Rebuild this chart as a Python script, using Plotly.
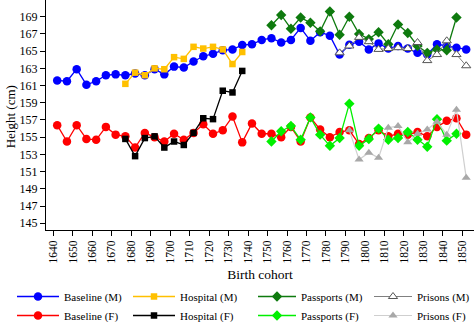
import plotly.graph_objects as go

# ---- data ----
years_base = list(range(1642, 1853, 5))
baseline_m = [161.6, 161.5, 162.9, 161.1, 161.5, 162.2, 162.3, 162.2, 162.4, 162.2, 162.9,
              162.3, 163.2, 163.1, 163.8, 164.4, 164.7, 165.1, 165.2, 165.7, 165.8, 166.3,
              166.5, 166.0, 166.3, 167.7, 166.2, 167.2, 166.8, 164.6, 165.75, 166.1, 165.2,
              165.9, 165.3, 165.6, 165.3, 164.8, 164.6, 165.8, 165.6, 165.4, 165.2]
baseline_f = [156.4, 154.5, 156.4, 154.8, 154.7, 156.2, 155.3, 155.1, 153.8, 155.5, 155.0,
              154.5, 155.4, 154.7, 155.5, 156.5, 155.4, 155.8, 157.4, 154.4, 156.6, 155.4,
              155.4, 155.0, 156.2, 154.5, 157.3, 155.9, 155.0, 155.6, 155.8, 154.2, 154.9,
              155.8, 155.1, 155.4, 155.3, 155.6, 155.1, 156.2, 156.9, 157.2, 155.3]

years_hosp = list(range(1677, 1738, 5))
hospital_m = [161.2, 162.5, 162.2, 163.0, 162.9, 164.3, 164.1, 165.5, 165.3, 165.5, 165.2, 163.5, 164.9]
hospital_f = [154.8, 152.8, 154.9, 155.1, 153.8, 154.5, 154.1, 155.5, 157.2, 157.1, 160.4, 160.2, 162.7]

years_pass = list(range(1752, 1848, 5))
passports_m = [168.0, 169.2, 167.6, 168.9, 168.3, 167.3, 169.6, 166.9, 169.0, 167.0,
               166.4, 167.2, 165.8, 168.1, 167.1, 165.6, 164.8, 165.2, 165.1, 168.9]
passports_f = [154.5, 155.7, 156.3, 154.7, 157.3, 155.3, 154.0, 154.9, 158.9, 154.0,
               154.8, 156.0, 154.7, 154.9, 155.6, 154.7, 153.9, 157.1, 154.6, 155.4]

years_prison_m = list(range(1787, 1853, 5))
prisons_m = [164.8, 165.6, 166.6, 166.1, 165.2, 165.3, 165.4, 165.3, 166.0, 163.9, 164.6, 166.2, 164.6, 163.3]
years_prison_f = list(range(1792, 1853, 5))
prisons_f = [155.8, 152.4, 153.2, 152.6, 156.1, 156.3, 154.4, 155.4, 155.9, 156.8, 155.3, 158.2, 150.3]

y_ticks = list(range(145, 170, 2))
x_ticks = list(range(1640, 1851, 10))

FONT = "Liberation Serif, Times New Roman, serif"

fig = go.Figure()


def add(x, y, name, color, symbol, size, legend, mcolor=None, mline=None, lw=1.3):
    fig.add_trace(go.Scatter(
        x=x, y=y, name=name, mode="lines+markers", legend=legend,
        line=dict(color=color, width=lw),
        marker=dict(symbol=symbol, size=size, color=mcolor or color,
                    line=dict(color=mline or (mcolor or color), width=1 if mline else 0)),
    ))


add(years_base, baseline_m, "Baseline (M)", "#0000FF", "circle", 8.5, "legend")
add(years_base, baseline_f, "Baseline (F)", "#FF0000", "circle", 8.5, "legend")
add(years_hosp, hospital_m, "Hospital (M)", "#FFC000", "square", 6.5, "legend2")
add(years_hosp, hospital_f, "Hospital (F)", "#000000", "square", 6.5, "legend2")
add(years_pass, passports_m, "Passports (M)", "#0E7A0E", "diamond", 8, "legend3")
add(years_pass, passports_f, "Passports (F)", "#00F000", "diamond", 8, "legend3")
add(years_prison_m, prisons_m, "Prisons (M)", "#808080", "triangle-up", 8, "legend4",
    mcolor="#FFFFFF", mline="#555555", lw=1)
add(years_prison_f, prisons_f, "Prisons (F)", "#CFCFCF", "triangle-up", 8, "legend4",
    mcolor="#A8A8A8", lw=1.2)

leg_common = dict(
    orientation="v", xref="container", yref="container", yanchor="top", xanchor="left",
    font=dict(family=FONT, size=11, color="black"),
    bgcolor="rgba(0,0,0,0)", borderwidth=0, tracegroupgap=0,
)
leg_y = (322 - 282) / 322
fig.update_layout(
    width=474, height=322,
    margin=dict(l=46, r=0, t=0, b=92, autoexpand=False),
    paper_bgcolor="white", plot_bgcolor="white",
    font=dict(family=FONT, size=12, color="black"),
    showlegend=True,
    legend=dict(x=12 / 474, y=leg_y, itemwidth=42, **leg_common),
    legend2=dict(x=128 / 474, y=leg_y, itemwidth=42, **leg_common),
    legend3=dict(x=253 / 474, y=leg_y, itemwidth=38, **leg_common),
    legend4=dict(x=369 / 474, y=leg_y, itemwidth=38, **leg_common),
    xaxis=dict(
        range=[1636.25, 1856.0], tickmode="array", tickvals=x_ticks,
        ticktext=[str(v) for v in x_ticks], tickangle=-90,
        showline=True, linecolor="black", linewidth=1, mirror=False,
        ticks="outside", ticklen=5, tickcolor="black", showgrid=False, zeroline=False,
        tickfont=dict(family=FONT, size=11.5, color="black"),
        title=dict(text="Birth cohort", font=dict(family=FONT, size=13.5, color="black"), standoff=6),
        automargin=True,
    ),
    yaxis=dict(
        range=[144.22, 170.94], tickmode="array", tickvals=y_ticks,
        showline=True, linecolor="black", linewidth=1,
        ticks="outside", ticklen=5, tickcolor="black", showgrid=False, zeroline=False,
        tickfont=dict(family=FONT, size=12, color="black"),
        automargin=False,
    ),
    annotations=[dict(
        text="Height (cm)", textangle=-90, showarrow=False,
        xref="paper", yref="paper", x=(10 - 46) / 428, y=0.49,
        xanchor="center", yanchor="middle",
        font=dict(family=FONT, size=13, color="black"),
    )],
)

fig.write_html("out.html")
